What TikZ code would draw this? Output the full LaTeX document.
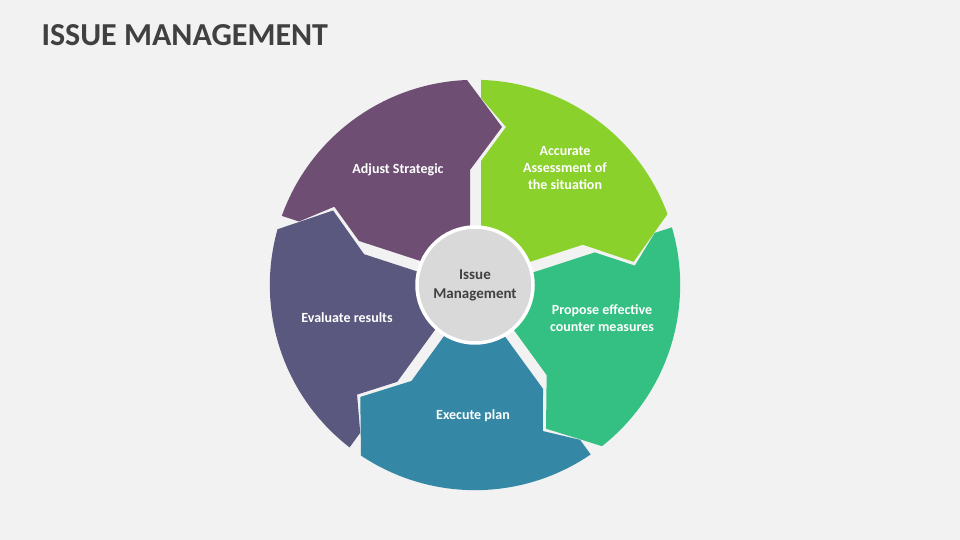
\documentclass[tikz,border=0pt]{standalone}
\usepackage{fontspec}
\setmainfont{Carlito}
\begin{document}
\begin{tikzpicture}[x=1pt,y=1pt,
  seglabel/.style={text=white,font=\bfseries\fontsize{14}{17}\selectfont,align=center}]
\fill[fill={rgb,255:red,242;green,242;blue,242}] (0,0) rectangle (960,540);
\useasboundingbox (0,0) rectangle (960,540);
\node[anchor=west,font=\bfseries\fontsize{32}{36}\selectfont,text={rgb,255:red,64;green,64;blue,64}] (title) at (38,505) {ISSUE MANAGEMENT};
\def\seg#1#2{%
 \begin{scope}[shift={(475,255)},rotate=#1]
 \fill[#2] (-5,55) -- (-5,115) -- (27,158) -- (-8,205)
   arc[start angle=92.23, end angle=160.32, radius=205.15]
   -- ([rotate=72]6,187) -- ([rotate=72]31,158) -- ([rotate=72]6,124) -- ([rotate=72]6,55)
   arc[start angle=155.77, end angle=95.19, radius=55.33] -- cycle;
 \end{scope}}
\definecolor{cpur}{RGB}{110,79,115}
\definecolor{cgrn}{RGB}{139,209,43}
\definecolor{ctea}{RGB}{52,192,130}
\definecolor{cblu}{RGB}{52,135,165}
\definecolor{csla}{RGB}{90,88,126}
\seg{0}{cpur}
\seg{-72}{cgrn}
\seg{-144}{ctea}
\seg{-216}{cblu}
\seg{-288}{csla}
\node[circle,minimum size=116,fill={rgb,255:red,217;green,217;blue,217},draw=white,line width=3.5,
  align=center,font=\bfseries\fontsize{15}{19}\selectfont,text={rgb,255:red,64;green,64;blue,64}] (hub) at (475,255) {Issue\\Management};
\node[seglabel] (l1) at (398,370) {Adjust Strategic};
\node[seglabel] (l2) at (565,372) {Accurate\\Assessment of\\the situation};
\node[seglabel] (l3) at (602,222) {Propose effective\\counter measures};
\node[seglabel] (l4) at (473,124) {Execute plan};
\node[seglabel] (l5) at (347,222) {Evaluate results};
\end{tikzpicture}
\end{document}
